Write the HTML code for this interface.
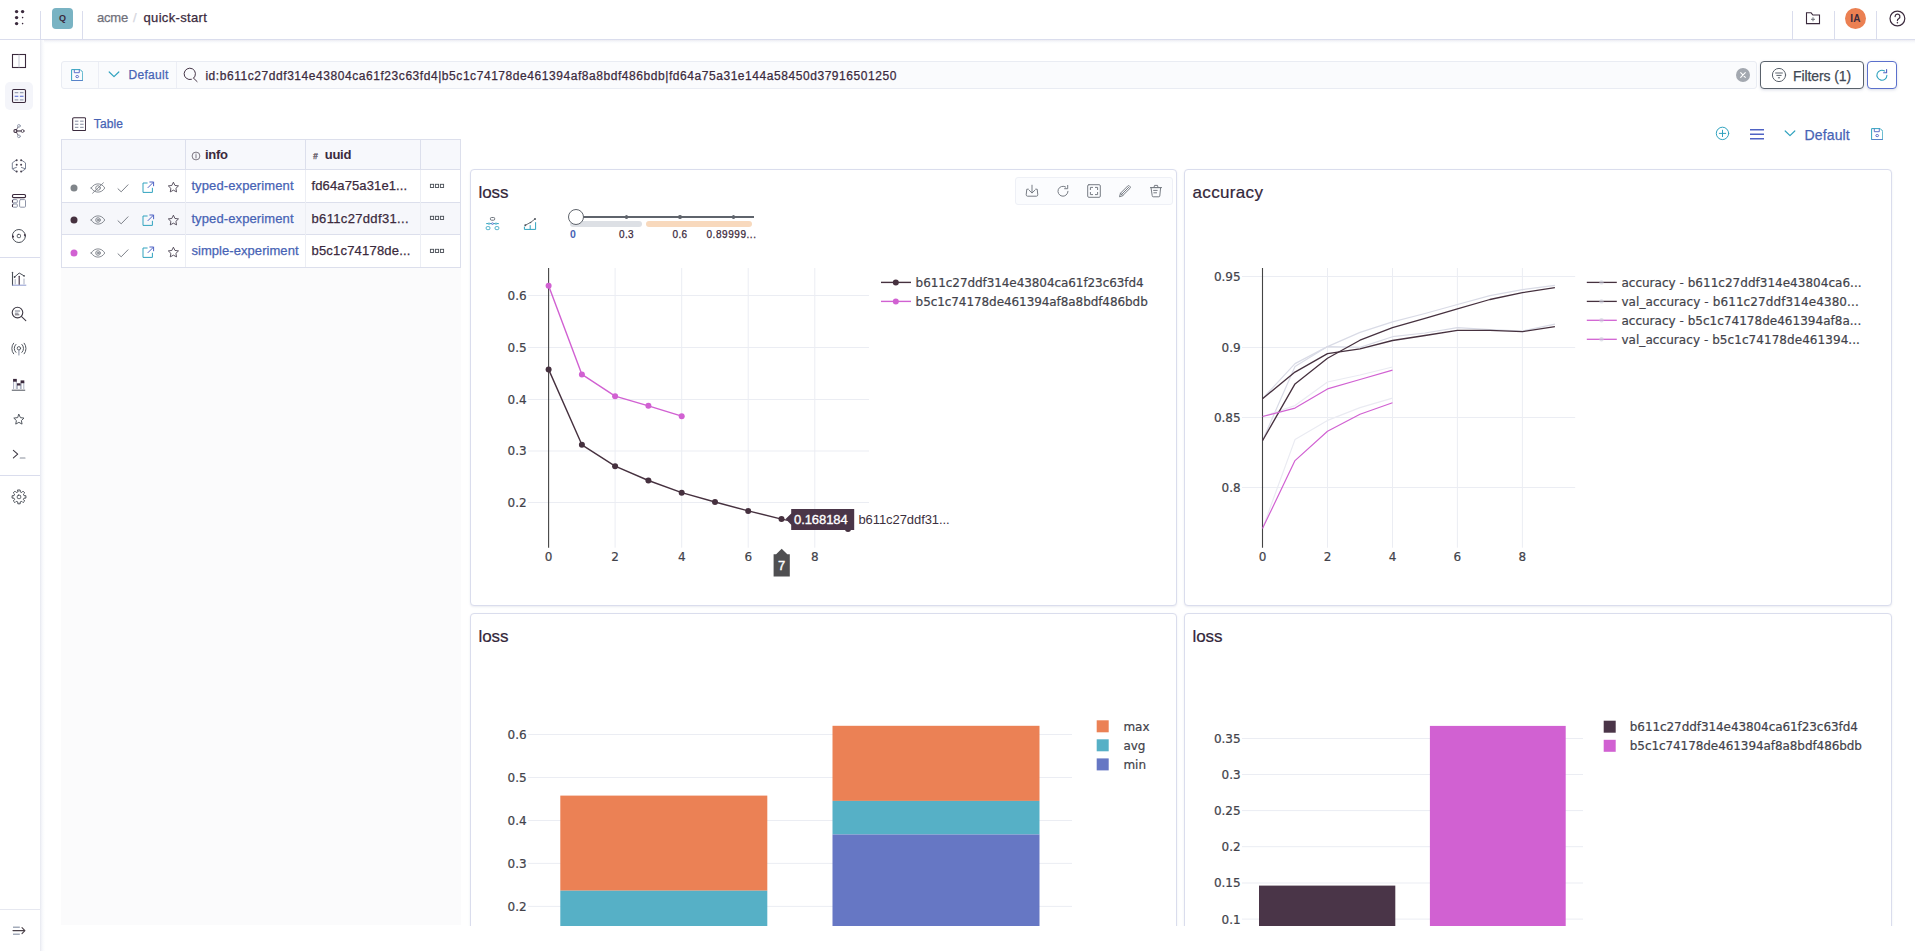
<!DOCTYPE html><html lang="en"><head><meta charset="utf-8"><title>quick-start</title><style>
*{box-sizing:border-box}
html,body{margin:0;padding:0}
body{width:1915px;height:951px;position:relative;overflow:hidden;background:#fff;font-family:"Liberation Sans",sans-serif;color:#3b2a3d;-webkit-font-smoothing:antialiased}
.abs{position:absolute}
.t{position:absolute;white-space:nowrap;line-height:1;-webkit-text-stroke-width:.25px}
#header{position:absolute;left:0;top:0;width:1915px;height:40px;background:#fff;border-bottom:1px solid #dadded;z-index:5}
#header:after{content:'';position:absolute;left:44px;top:40px;width:1871px;height:4px;background:linear-gradient(180deg,#ececf1,#f4f5f9 30%,#fafbfd 60%,#fff)}
.vsep{position:absolute;top:11px;width:1px;height:28px;background:#dadded}
#sidebar{position:absolute;left:0;top:40px;width:40px;height:911px;background:#fff;z-index:4}
#sidebar:after{content:'';position:absolute;left:40px;top:0;width:5px;height:911px;background:linear-gradient(90deg,#e6e8f0,#f1f2f7 25%,#f9fafc 55%,#fff)}
.hsep{position:absolute;left:0;width:40px;height:1px;background:#dadded}
.card{position:absolute;background:#fff;border:1px solid #dadded;border-radius:4px;box-shadow:0 1px 2px rgba(120,130,170,.15)}
.card svg{position:absolute;left:-1px;top:-1px}
.title{position:absolute;font-size:17px;line-height:1;white-space:nowrap;color:#33263a;-webkit-text-stroke:.2px #33263a}
table{border-collapse:collapse}
</style></head><body>
<div id="header">
<svg class="abs" style="left:12px;top:7px" width="16" height="22" viewBox="12 7 16 22"><g fill="#3b2a3d"><circle cx="16.6" cy="11.6" r="1.7"/><circle cx="16.6" cy="17.6" r="1.7"/><circle cx="16.6" cy="23.6" r="1.7"/><circle cx="22.6" cy="11.6" r="1.7"/><circle cx="22.6" cy="17.6" r=".8"/><circle cx="22.6" cy="23.6" r=".8"/></g></svg>
<div class="vsep" style="left:40px"></div><div class="vsep" style="left:82px"></div>
<div class="abs" style="left:52px;top:8px;width:21px;height:21px;border-radius:4px;background:#79b3c3;color:#3b2a3d;font-size:9px;font-weight:bold;line-height:21px;text-align:center">Q</div>
<div class="t" style="left:97px;top:11.3px;font-size:13px;color:#70707a;letter-spacing:-.2px">acme</div>
<div class="t" style="left:133px;top:11.3px;font-size:13px;color:#d5d6de">/</div>
<div class="t" style="left:143.5px;top:10.8px;font-size:13px;color:#3b2a3d;letter-spacing:.34px">quick-start</div>
<div class="vsep" style="left:1792px"></div><div class="vsep" style="left:1834px"></div><div class="vsep" style="left:1876px"></div>
<svg class="abs" style="left:1804px;top:10px" width="18" height="16" viewBox="1804 10 18 16" fill="none" stroke="#3b2a3d" stroke-width="1.1"><path d="M1806.5 12.8h4.6l1.8 2.2h6.6v8.6h-13z"/><path d="M1813 17.3v4M1811 19.3h4" stroke="#6c7078" stroke-width="1"/></svg>
<div class="abs" style="left:1845px;top:8px;width:21px;height:21px;border-radius:50%;background:#eb8052;color:#3b2a3d;font-size:10px;font-weight:bold;line-height:21px;text-align:center;letter-spacing:.2px">IA</div>
<svg class="abs" style="left:1888px;top:9px" width="19" height="19" viewBox="0 0 19 19" fill="none" stroke="#3b2a3d" stroke-width="1.2"><circle cx="9.4" cy="9.5" r="7.4"/><path d="M7.1 7.6a2.4 2.4 0 1 1 3.5 2.1c-.8.5-1.2.9-1.2 1.9" stroke-linecap="round"/><circle cx="9.4" cy="13.7" r=".8" fill="#3b2a3d" stroke="none"/></svg>
</div>
<div id="sidebar">
<div class="abs" style="left:5px;top:42px;width:28px;height:28px;border-radius:5px;background:#f4f5fa"></div>
<div class="hsep" style="top:217px"></div><div class="hsep" style="top:435px"></div><div class="hsep" style="top:869px;background:#e6e8f0"></div>
<svg class="abs" style="left:0;top:0" width="40" height="911" viewBox="0 40 40 911" fill="none" stroke="#3b2a3d" stroke-width="1.1" stroke-linecap="round" stroke-linejoin="round"><rect x="12.5" y="54.5" width="13" height="13" stroke-linejoin="miter"/><path d="M19 55v12" stroke="#c4c7d2" stroke-width="1"/><rect x="12.5" y="89.5" width="13" height="13" rx="1.2"/><g stroke-width="1.1" stroke-linecap="butt"><path d="M14.7 92.6h3.6M19.9 92.6h3.6M14.7 99.9h3.6M19.9 99.9h3.6" stroke="#9aa0b2"/><path d="M14.7 96.3h3.6M19.9 96.3h3.6" stroke="#4f63d0"/></g><g stroke-width=".85"><path d="M16.3 130l1.8-3M16.3 132l1.8 3.2" stroke="#5a5060"/><path d="M17.2 130.5h3.8M17.2 131.6h3.8" stroke="#5a5060" stroke-width=".7"/><circle cx="18.9" cy="125.9" r="1.4" stroke="#8b93a6"/><circle cx="18.9" cy="136.3" r="1.4" stroke="#8b93a6"/><circle cx="22.6" cy="131" r="1.45" stroke="#4a4050"/><circle cx="15.4" cy="131" r="1.5" stroke="#3b2a3d" stroke-width="1.1"/></g><g stroke="#6c7488" stroke-width=".9"><path d="M16 160.3l-3.7 2.6v6l3.7 2.6M21.8 160.3l3.7 2.6v6l-3.7 2.6"/><path d="M13 168.6l3.4-1.2M24.8 168.6l-3.4-1.2"/></g><g fill="#4a4452" stroke="none"><circle cx="16.7" cy="160.3" r="1"/><circle cx="21.1" cy="160.3" r="1"/><circle cx="16.7" cy="164.8" r="1"/><circle cx="21.1" cy="164.8" r="1"/><circle cx="16.7" cy="171.6" r="1"/><circle cx="21.1" cy="171.6" r="1"/></g><rect x="12.5" y="194.5" width="13" height="3.2" rx="1.2" stroke-width="1.2"/><g stroke="#8f95a8" stroke-width="1"><rect x="12.5" y="199.6" width="4.8" height="3.2" rx=".8"/><rect x="12.5" y="204" width="4.8" height="3.2" rx=".8"/><rect x="19.6" y="199.6" width="5.9" height="7.6" rx="1"/></g><path d="M12.5 200.5v1.5M12.5 204.8v1.6" stroke-width="1.1"/><circle cx="18.9" cy="236" r="6.5" stroke="#4a4f57" stroke-width="1"/><rect x="17.3" y="234.4" width="3.2" height="3.2" rx="1" stroke="#4a4f57" stroke-width="1"/><path d="M13.1 235.3l1 1.3-1 1.3-1-1.3zM24.8 233.7l1 1.3-1 1.3-1-1.3z" fill="#3b2a3d" stroke="none"/><path d="M12.5 272.2v13" stroke="#4a4f57"/><path d="M12.5 285.2h13.4" stroke="#8f9ad0" stroke-width="1"/><path d="M14.6 277l4.6-4 4.8 2.8" stroke="#4a4f57" stroke-width="1"/><path d="M19.2 276.2v8" stroke-width="1.1"/><path d="M15.2 279.5v4.5M24 279v5" stroke="#a9aec0" stroke-width="1"/><circle cx="14.6" cy="277" r=".9" fill="#4a4f57" stroke="none"/><circle cx="24" cy="275.8" r=".9" fill="#4a4f57" stroke="none"/><circle cx="17.5" cy="312.6" r="5.3" stroke="#3f3a45"/><path d="M21.6 316.7l4.2 3.9" stroke="#3f3a45"/><path d="M15.3 311h4.4M15.3 313.2h2.8" stroke="#6c6f80" stroke-width=".9"/><path d="M15.3 314.8h3.6" stroke="#3f3a45" stroke-width=".8"/><g stroke="#4a4f57"><circle cx="18.9" cy="348.3" r="1.7" stroke-width=".9"/><path d="M18.9 350.2v4.8" stroke="#8f95a8" stroke-width="1.1"/><path d="M15.9 344.4a5.4 5.4 0 0 0 0 8M21.9 344.4a5.4 5.4 0 0 1 0 8M13.6 343.2a8.4 8.4 0 0 0 0 10.6M24.2 343.2a8.4 8.4 0 0 1 0 10.6" stroke-width=".95"/></g><path d="M12.2 390.2h12.6" stroke="#4a4f57" stroke-width="1"/><g stroke="#a3a8ba" stroke-width=".9"><path d="M13.6 381v7.6M16.3 381v7.6M17.4 385v3.6M20.4 385v3.6M21.2 382.5v6.1M23.8 382.5v6.1"/></g><g fill="#3b2a3d" stroke="none"><rect x="13.1" y="378.9" width="3.7" height="2.8"/><rect x="17" y="383.3" width="3.6" height="2.2"/><rect x="20.6" y="380.4" width="3.7" height="2.8"/></g><path d="M18.9 414.4l1.55 3.25 3.55.45-2.6 2.45.65 3.55-3.15-1.75-3.15 1.75.65-3.55-2.6-2.45 3.55-.45z" stroke="#4a4f57" stroke-width=".95"/><path d="M13.4 450.3l4.3 3.8-4.3 3.8" stroke="#3f3a45"/><path d="M20.2 458h4.8" stroke="#8a8f9c" stroke-width="1.1"/><path d="M17.82 490 L20.18 490 L20.19 491.84 L21.74 492.48 L23.04 491.18 L24.72 492.86 L23.42 494.16 L24.06 495.71 L25.9 495.72 L25.9 498.08 L24.06 498.09 L23.42 499.64 L24.72 500.94 L23.04 502.62 L21.74 501.32 L20.19 501.96 L20.18 503.8 L17.82 503.8 L17.81 501.96 L16.26 501.32 L14.96 502.62 L13.28 500.94 L14.58 499.64 L13.94 498.09 L12.1 498.08 L12.1 495.72 L13.94 495.71 L14.58 494.16 L13.28 492.86 L14.96 491.18 L16.26 492.48 L17.81 491.84Z" stroke="#4a4f57" stroke-width="1" stroke-linejoin="round"/><rect x="17.3" y="495.2" width="3.4" height="3.4" rx="1.1" stroke="#4a4f57" stroke-width="1"/><path d="M13 927.2h6.8M13 934.2h6.8" stroke="#a3abba" stroke-width="1.4" stroke-linecap="butt"/><path d="M13 930.6h11.4" stroke="#4a4048" stroke-width="1.1"/><path d="M22 927.6l2.9 3-2.9 3" stroke="#4a4048" stroke-width="1.1"/></svg>
</div>
<div id="main" class="abs" style="left:41px;top:40px;width:1874px;height:911px">
<div class="abs" style="left:-41px;top:-40px;width:1915px;height:951px">
<div class="abs" style="left:61px;top:61px;width:1696px;height:28px;background:#fafbfd;border:1px solid #e9ecf3;border-radius:3px"></div>
<div class="abs" style="left:98px;top:62px;width:1px;height:26px;background:#eceef5"></div><div class="abs" style="left:176px;top:62px;width:1px;height:26px;background:#eceef5"></div>
<svg class="abs" style="left:70.8px;top:68.6px" width="12.4" height="12.4" viewBox="0 0 12.4 12.4" fill="none" stroke="#31a3bf" stroke-width="1"><path d="M.6 .6h8.6l2.6 2.6v8.6H.6z" stroke-linejoin="round"/><path d="M3.3 .8v2.9h5V.8" stroke="#4f63c4" stroke-width=".9"/><ellipse cx="6.2" cy="7.6" rx="1.4" ry="1.1" stroke="#4f63c4" stroke-width=".9"/><path d="M.8 11.8h10.8" stroke="#4f63c4" stroke-width=".9"/></svg>
<svg class="abs" style="left:108px;top:70px" width="12" height="9" viewBox="0 0 12 9" fill="none" stroke="#31a3bf" stroke-width="1.2" stroke-linecap="round" stroke-linejoin="round"><path d="M1.2 2l4.8 4.6L10.8 2"/></svg>
<div class="t" style="left:128.5px;top:69px;font-size:12px;color:#4763b5;letter-spacing:.31px">Default</div>
<svg class="abs" style="left:182px;top:66px" width="17" height="17" viewBox="182 66 17 17" fill="none" stroke="#3b2a3d" stroke-width=".95" stroke-linecap="round"><path d="M193.6 78.2A5.7 5.7 0 1 0 191.4 79.4"/><path d="M193.7 78.3l3.4 3.3"/></svg>
<div class="t" style="left:205.4px;top:69.5px;font-size:12px;color:#3b2a3d;letter-spacing:.557px">id:b611c27ddf314e43804ca61f23c63fd4|b5c1c74178de461394af8a8bdf486bdb|fd64a75a31e144a58450d37916501250</div>
<svg class="abs" style="left:1736px;top:68px" width="14" height="14" viewBox="0 0 14 14"><circle cx="7" cy="7" r="7" fill="#a3a8b0"/><path d="M4.7 4.7l4.6 4.6M9.3 4.7l-4.6 4.6" stroke="#fff" stroke-width="1.1" stroke-linecap="round"/></svg>
<div class="abs" style="left:1760px;top:61px;width:104px;height:28px;border:1px solid #59616b;border-radius:4px;background:#fff;box-shadow:0 1px 3px rgba(100,110,150,.25)"></div>
<svg class="abs" style="left:1771px;top:67px" width="16" height="16" viewBox="0 0 16 16" fill="none" stroke="#59616b" stroke-width="1" stroke-linecap="round"><circle cx="8" cy="8" r="6.6"/><path d="M4.6 6h6.8M5.8 8.4h4.4M7.3 10.8h1.4"/></svg>
<div class="t" style="left:1793px;top:68.5px;font-size:14px;color:#404854;letter-spacing:-.1px">Filters (1)</div>
<div class="abs" style="left:1867px;top:61px;width:30px;height:28px;border:1px solid #5b70cc;border-radius:4px;background:#fff;box-shadow:0 1px 3px rgba(100,110,150,.25)"></div>
<svg class="abs" style="left:1875px;top:68px" width="14" height="14" viewBox="0 0 14 14" fill="none" stroke="#31a3bf" stroke-width="1.1" stroke-linecap="round"><path d="M11.9 7.2A5 5 0 1 1 9.6 3"/><path d="M11.6 1.6v3.2H8.6" stroke="#4f63c4"/></svg>
<svg class="abs" style="left:71.5px;top:116.5px" width="14.5" height="14.5" viewBox="0 0 15 15" fill="none" stroke="#3b2a3d" stroke-width="1.1"><rect x=".7" y=".7" width="13.4" height="13.4" rx="1.2"/><g stroke="#7f879c" stroke-width="1"><path d="M3 4.3h3.6M8.4 4.3h3.6M3 7.5h3.6M8.4 7.5h3.6M3 10.7h3.6M8.4 10.7h3.6"/></g></svg>
<div class="t" style="left:93.8px;top:118px;font-size:12px;color:#4763b5;letter-spacing:.14px">Table</div>
<div class="abs" style="left:61px;top:139px;width:400px;height:786px;background:#fbfbfc"></div>
<div class="abs" style="left:61px;top:139px;width:400px;height:129px;background:#fff;border:1px solid #dcdfec"></div>
<div class="abs" style="left:62px;top:140px;width:398px;height:29px;background:#f7f8fc"></div>
<div class="abs" style="left:62px;top:203px;width:398px;height:31px;background:#f6f7fb"></div>
<div class="abs" style="left:61px;top:169px;width:400px;height:1px;background:#dcdfec"></div>
<div class="abs" style="left:61px;top:202px;width:400px;height:1px;background:#dcdfec"></div>
<div class="abs" style="left:61px;top:234px;width:400px;height:1px;background:#dcdfec"></div>
<div class="abs" style="left:185px;top:140px;width:1px;height:29px;background:#dcdfec"></div>
<div class="abs" style="left:185px;top:170px;width:1px;height:97px;background:#eceef4"></div>
<div class="abs" style="left:305px;top:140px;width:1px;height:29px;background:#dcdfec"></div>
<div class="abs" style="left:305px;top:170px;width:1px;height:97px;background:#eceef4"></div>
<div class="abs" style="left:420px;top:140px;width:1px;height:29px;background:#dcdfec"></div>
<div class="abs" style="left:420px;top:170px;width:1px;height:97px;background:#eceef4"></div>
<svg class="abs" style="left:191px;top:151px" width="10" height="10" viewBox="0 0 10 10" fill="none" stroke="#5d5562" stroke-width=".8"><circle cx="5" cy="5" r="3.9"/><path d="M5 4.4v2.6M5 3v.4" stroke-linecap="round"/></svg>
<div class="t" style="left:205px;top:147.8px;font-size:13px;font-weight:bold;color:#3b2a3d;letter-spacing:-.3px;-webkit-text-stroke-width:0">info</div>
<div class="t" style="left:313px;top:151.5px;font-size:8.5px;font-style:italic;font-weight:bold;color:#5d5562">#</div>
<div class="t" style="left:324.8px;top:147.8px;font-size:13px;font-weight:bold;color:#3b2a3d;letter-spacing:-.3px;-webkit-text-stroke-width:0">uuid</div>
<svg class="abs" style="left:69px;top:182.5px" width="10" height="10" viewBox="0 0 10 10"><circle cx="5" cy="5" r="3.5" fill="#80858a"/></svg>
<svg class="abs" style="left:90px;top:179.5px" width="16" height="16" viewBox="0 0 16 16" fill="none" stroke="#7c8088" stroke-width=".9" stroke-linecap="round"><path d="M1.2 8C3 5.2 5.3 3.9 8 3.9s5 1.3 6.8 4.1C13 10.8 10.7 12.1 8 12.1S3 10.8 1.2 8z"/><circle cx="8" cy="8" r="2.3"/><path d="M2.6 13.2L13.4 2.8"/></svg>
<svg class="abs" style="left:116px;top:180.5px" width="14" height="14" viewBox="0 0 14 14" fill="none" stroke="#7c8088" stroke-width="1" stroke-linecap="round" stroke-linejoin="round"><path d="M2 7.8l3.2 3L12 3.8"/></svg>
<svg class="abs" style="left:141px;top:180px" width="14" height="14" viewBox="0 0 14 14" fill="none" stroke="#31a3bf" stroke-width="1" stroke-linecap="round" stroke-linejoin="round"><path d="M6.2 3H2v9.4h9.4V8.2"/><path d="M8.8 2h3.8v3.8M12.4 2.2L7 7.6" stroke="#4f63c4"/></svg>
<svg class="abs" style="left:166.5px;top:181.2px" width="13" height="13" viewBox="0 0 13 13" fill="none" stroke="#4c4452" stroke-width=".9" stroke-linejoin="round"><path d="M6.4 1.2l1.55 3.25 3.55.45-2.6 2.45.65 3.55-3.15-1.75-3.15 1.75.65-3.55-2.6-2.45 3.55-.45z"/></svg>
<div class="t" style="left:191.4px;top:179px;font-size:13px;color:#4763b5;letter-spacing:0.116px">typed-experiment</div>
<div class="t" style="left:311.5px;top:179px;font-size:13px;color:#3b2a3d;letter-spacing:0.12px">fd64a75a31e1...</div>
<svg class="abs" style="left:429px;top:183px" width="17" height="6" viewBox="0 0 17 6" fill="none" stroke="#4a4f57" stroke-width=".9"><rect x="1.4" y="1.3" width="3.2" height="3.2"/><rect x="6.4" y="1.3" width="3.2" height="3.2"/><rect x="11.4" y="1.3" width="3.2" height="3.2"/></svg>
<svg class="abs" style="left:69px;top:215.1px" width="10" height="10" viewBox="0 0 10 10"><circle cx="5" cy="5" r="3.5" fill="#46313f"/></svg>
<svg class="abs" style="left:90px;top:212.1px" width="16" height="16" viewBox="0 0 16 16" fill="none" stroke="#7c8088" stroke-width=".9" stroke-linecap="round"><path d="M1.2 8C3 5.2 5.3 3.9 8 3.9s5 1.3 6.8 4.1C13 10.8 10.7 12.1 8 12.1S3 10.8 1.2 8z"/><circle cx="8" cy="8" r="2.3"/><circle cx="8" cy="8" r=".9"/></svg>
<svg class="abs" style="left:116px;top:213.1px" width="14" height="14" viewBox="0 0 14 14" fill="none" stroke="#7c8088" stroke-width="1" stroke-linecap="round" stroke-linejoin="round"><path d="M2 7.8l3.2 3L12 3.8"/></svg>
<svg class="abs" style="left:141px;top:212.6px" width="14" height="14" viewBox="0 0 14 14" fill="none" stroke="#31a3bf" stroke-width="1" stroke-linecap="round" stroke-linejoin="round"><path d="M6.2 3H2v9.4h9.4V8.2"/><path d="M8.8 2h3.8v3.8M12.4 2.2L7 7.6" stroke="#4f63c4"/></svg>
<svg class="abs" style="left:166.5px;top:213.79999999999998px" width="13" height="13" viewBox="0 0 13 13" fill="none" stroke="#4c4452" stroke-width=".9" stroke-linejoin="round"><path d="M6.4 1.2l1.55 3.25 3.55.45-2.6 2.45.65 3.55-3.15-1.75-3.15 1.75.65-3.55-2.6-2.45 3.55-.45z"/></svg>
<div class="t" style="left:191.4px;top:211.8px;font-size:13px;color:#4763b5;letter-spacing:0.116px">typed-experiment</div>
<div class="t" style="left:311.5px;top:211.8px;font-size:13px;color:#3b2a3d;letter-spacing:0.34px">b611c27ddf31...</div>
<svg class="abs" style="left:429px;top:215.2px" width="17" height="6" viewBox="0 0 17 6" fill="none" stroke="#4a4f57" stroke-width=".9"><rect x="1.4" y="1.3" width="3.2" height="3.2"/><rect x="6.4" y="1.3" width="3.2" height="3.2"/><rect x="11.4" y="1.3" width="3.2" height="3.2"/></svg>
<svg class="abs" style="left:69px;top:247.7px" width="10" height="10" viewBox="0 0 10 10"><circle cx="5" cy="5" r="3.5" fill="#d161d2"/></svg>
<svg class="abs" style="left:90px;top:244.7px" width="16" height="16" viewBox="0 0 16 16" fill="none" stroke="#7c8088" stroke-width=".9" stroke-linecap="round"><path d="M1.2 8C3 5.2 5.3 3.9 8 3.9s5 1.3 6.8 4.1C13 10.8 10.7 12.1 8 12.1S3 10.8 1.2 8z"/><circle cx="8" cy="8" r="2.3"/><circle cx="8" cy="8" r=".9"/></svg>
<svg class="abs" style="left:116px;top:245.7px" width="14" height="14" viewBox="0 0 14 14" fill="none" stroke="#7c8088" stroke-width="1" stroke-linecap="round" stroke-linejoin="round"><path d="M2 7.8l3.2 3L12 3.8"/></svg>
<svg class="abs" style="left:141px;top:245.2px" width="14" height="14" viewBox="0 0 14 14" fill="none" stroke="#31a3bf" stroke-width="1" stroke-linecap="round" stroke-linejoin="round"><path d="M6.2 3H2v9.4h9.4V8.2"/><path d="M8.8 2h3.8v3.8M12.4 2.2L7 7.6" stroke="#4f63c4"/></svg>
<svg class="abs" style="left:166.5px;top:246.39999999999998px" width="13" height="13" viewBox="0 0 13 13" fill="none" stroke="#4c4452" stroke-width=".9" stroke-linejoin="round"><path d="M6.4 1.2l1.55 3.25 3.55.45-2.6 2.45.65 3.55-3.15-1.75-3.15 1.75.65-3.55-2.6-2.45 3.55-.45z"/></svg>
<div class="t" style="left:191.4px;top:244px;font-size:13px;color:#4763b5;letter-spacing:0.06px">simple-experiment</div>
<div class="t" style="left:311.5px;top:244px;font-size:13px;color:#3b2a3d;letter-spacing:0.2px">b5c1c74178de...</div>
<svg class="abs" style="left:429px;top:248px" width="17" height="6" viewBox="0 0 17 6" fill="none" stroke="#4a4f57" stroke-width=".9"><rect x="1.4" y="1.3" width="3.2" height="3.2"/><rect x="6.4" y="1.3" width="3.2" height="3.2"/><rect x="11.4" y="1.3" width="3.2" height="3.2"/></svg>
<svg class="abs" style="left:1715px;top:126px" width="15" height="15" viewBox="0 0 15 15" fill="none" stroke="#31a3bf" stroke-width="1" stroke-linecap="round"><circle cx="7.5" cy="7.4" r="6.2"/><path d="M7.5 4.2v6.4M4.3 7.4h6.4"/></svg>
<svg class="abs" style="left:1749px;top:127px" width="16" height="14" viewBox="0 0 16 14" stroke="#4f63c4" stroke-width="1.6"><path d="M1 2.7h14M1 7.2h14M1 11.7h14"/></svg>
<svg class="abs" style="left:1784px;top:129px" width="12" height="9" viewBox="0 0 12 9" fill="none" stroke="#31a3bf" stroke-width="1.2" stroke-linecap="round" stroke-linejoin="round"><path d="M1.2 2l4.8 4.6L10.8 2"/></svg>
<div class="t" style="left:1804.6px;top:128px;font-size:14px;color:#4763b5;letter-spacing:.13px">Default</div>
<svg class="abs" style="left:1870.8px;top:127.8px" width="12.4" height="12.4" viewBox="0 0 12.4 12.4" fill="none" stroke="#31a3bf" stroke-width="1"><path d="M.6 .6h8.6l2.6 2.6v8.6H.6z" stroke-linejoin="round"/><path d="M3.3 .8v2.9h5V.8" stroke="#4f63c4" stroke-width=".9"/><ellipse cx="6.2" cy="7.6" rx="1.4" ry="1.1" stroke="#4f63c4" stroke-width=".9"/><path d="M.8 11.8h10.8" stroke="#4f63c4" stroke-width=".9"/></svg>
<div class="abs" style="left:462px;top:150px;width:1453px;height:776px;overflow:hidden">
<div class="abs" style="left:-462px;top:-150px;width:1915px;height:951px">
<div class="card" style="left:470px;top:169px;width:707px;height:437px"><div class="title" style="left:7.5px;top:13.7px;letter-spacing:-0.1px">loss</div><svg width="707" height="437" viewBox="470 169 707 437"><path d="M528 295.5H869" stroke="#ebedf3" stroke-width="1"/><text x="526.6" y="299.9" font-size="12" fill="#42424a" text-anchor="end" font-family="'DejaVu Sans',sans-serif" font-weight="normal" letter-spacing="0"  stroke="#42424a" stroke-width=".2">0.6</text><path d="M528 347.5H869" stroke="#ebedf3" stroke-width="1"/><text x="526.6" y="351.9" font-size="12" fill="#42424a" text-anchor="end" font-family="'DejaVu Sans',sans-serif" font-weight="normal" letter-spacing="0"  stroke="#42424a" stroke-width=".2">0.5</text><path d="M528 399.5H869" stroke="#ebedf3" stroke-width="1"/><text x="526.6" y="403.9" font-size="12" fill="#42424a" text-anchor="end" font-family="'DejaVu Sans',sans-serif" font-weight="normal" letter-spacing="0"  stroke="#42424a" stroke-width=".2">0.4</text><path d="M528 451H869" stroke="#ebedf3" stroke-width="1"/><text x="526.6" y="455.4" font-size="12" fill="#42424a" text-anchor="end" font-family="'DejaVu Sans',sans-serif" font-weight="normal" letter-spacing="0"  stroke="#42424a" stroke-width=".2">0.3</text><path d="M528 502.5H869" stroke="#ebedf3" stroke-width="1"/><text x="526.6" y="506.9" font-size="12" fill="#42424a" text-anchor="end" font-family="'DejaVu Sans',sans-serif" font-weight="normal" letter-spacing="0"  stroke="#42424a" stroke-width=".2">0.2</text><path d="M615.1 268V547.7" stroke="#ebedf3" stroke-width="1"/><path d="M681.7 268V547.7" stroke="#ebedf3" stroke-width="1"/><path d="M748.2 268V547.7" stroke="#ebedf3" stroke-width="1"/><path d="M814.8 268V547.7" stroke="#ebedf3" stroke-width="1"/><path d="M548.6 268V547.7" stroke="#444" stroke-width="1.1"/><text x="548.6" y="561.2" font-size="12" fill="#42424a" text-anchor="middle" font-family="'DejaVu Sans',sans-serif" font-weight="normal" letter-spacing="0"  stroke="#42424a" stroke-width=".2">0</text><text x="615.1" y="561.2" font-size="12" fill="#42424a" text-anchor="middle" font-family="'DejaVu Sans',sans-serif" font-weight="normal" letter-spacing="0"  stroke="#42424a" stroke-width=".2">2</text><text x="681.7" y="561.2" font-size="12" fill="#42424a" text-anchor="middle" font-family="'DejaVu Sans',sans-serif" font-weight="normal" letter-spacing="0"  stroke="#42424a" stroke-width=".2">4</text><text x="748.2" y="561.2" font-size="12" fill="#42424a" text-anchor="middle" font-family="'DejaVu Sans',sans-serif" font-weight="normal" letter-spacing="0"  stroke="#42424a" stroke-width=".2">6</text><text x="814.8" y="561.2" font-size="12" fill="#42424a" text-anchor="middle" font-family="'DejaVu Sans',sans-serif" font-weight="normal" letter-spacing="0"  stroke="#42424a" stroke-width=".2">8</text><polyline points="548.6,369.4 581.9,444.8 615.1,466.2 648.4,480.5 681.7,492.7 715,502 748.2,510.9 781.5,519.1 814.8,525.6 848,528.9" fill="none" stroke="#46313f" stroke-width="1.4" stroke-linejoin="round"/><circle cx="548.6" cy="369.4" r="3" fill="#46313f"/><circle cx="581.9" cy="444.8" r="3" fill="#46313f"/><circle cx="615.1" cy="466.2" r="3" fill="#46313f"/><circle cx="648.4" cy="480.5" r="3" fill="#46313f"/><circle cx="681.7" cy="492.7" r="3" fill="#46313f"/><circle cx="715" cy="502" r="3" fill="#46313f"/><circle cx="748.2" cy="510.9" r="3" fill="#46313f"/><circle cx="781.5" cy="519.1" r="3" fill="#46313f"/><circle cx="814.8" cy="525.6" r="3" fill="#46313f"/><circle cx="848" cy="528.9" r="3" fill="#46313f"/><polyline points="548.6,285.7 581.9,374.4 615.1,396.2 648.4,405.8 681.7,416.2" fill="none" stroke="#d161d2" stroke-width="1.4" stroke-linejoin="round"/><circle cx="548.6" cy="285.7" r="3" fill="#d161d2"/><circle cx="581.9" cy="374.4" r="3" fill="#d161d2"/><circle cx="615.1" cy="396.2" r="3" fill="#d161d2"/><circle cx="648.4" cy="405.8" r="3" fill="#d161d2"/><circle cx="681.7" cy="416.2" r="3" fill="#d161d2"/><path d="M881 282.4H911" stroke="#46313f" stroke-width="1.4"/><circle cx="895.8" cy="282.4" r="3" fill="#46313f"/><text x="915.6" y="286.9" font-size="12" fill="#42424a" text-anchor="start" font-family="'DejaVu Sans',sans-serif" font-weight="normal" letter-spacing="-0.075"  stroke="#42424a" stroke-width=".2">b611c27ddf314e43804ca61f23c63fd4</text><path d="M881 301.4H911" stroke="#d161d2" stroke-width="1.4"/><circle cx="895.8" cy="301.4" r="3" fill="#d161d2"/><text x="915.6" y="305.9" font-size="12" fill="#42424a" text-anchor="start" font-family="'DejaVu Sans',sans-serif" font-weight="normal" letter-spacing="-0.075"  stroke="#42424a" stroke-width=".2">b5c1c74178de461394af8a8bdf486bdb</text><path d="M785.6 519.1l5.6-5.6v-4.6h63v21h-63v-5.2z" fill="#4a3548"/><text x="794" y="523.8" font-size="13" fill="#fff" text-anchor="start" font-family="'Liberation Sans',sans-serif" font-weight="normal" letter-spacing="-0.08" stroke="#fff" stroke-width=".35">0.168184</text><text x="858.4" y="523.8" font-size="13" fill="#3c2f3d" text-anchor="start" font-family="'Liberation Sans',sans-serif" font-weight="normal" letter-spacing="-0.07" >b611c27ddf31...</text><path d="M781.7 548.7l-5.6 5.6h-2.5v22.2h16.2v-22.2h-2.5z" fill="#4f4f51"/><text x="781.7" y="570.3" font-size="13" fill="#fff" text-anchor="middle" font-family="'Liberation Sans',sans-serif" font-weight="normal" letter-spacing="0" stroke="#fff" stroke-width=".35">7</text></svg><div class="abs" style="left:544px;top:7px;width:158px;height:28px;border:1px solid #eef0f6;border-radius:3px;background:#fbfcfe"></div><svg class="abs" style="left:554.4000000000001px;top:14px" width="14" height="14" viewBox="0 0 14 14" fill="none" stroke="#777c84" stroke-width="1" stroke-linecap="round" stroke-linejoin="round"><path d="M7 1.2v7.6M4.2 6.3L7 9l2.8-2.7"/><path d="M3.4 5.2H1.8l-.6 5.6c0 .8.5 1.4 1.3 1.4h9c.8 0 1.3-.6 1.3-1.4l-.6-5.6h-1.6"/></svg><svg class="abs" style="left:585px;top:14px" width="14" height="14" viewBox="0 0 14 14" fill="none" stroke="#777c84" stroke-width="1" stroke-linecap="round" stroke-linejoin="round"><path d="M12 7.3A5 5 0 1 1 9.7 3"/><path d="M11.7 1.4v3.3H8.6"/></svg><svg class="abs" style="left:616px;top:14px" width="14" height="14" viewBox="0 0 14 14" fill="none" stroke="#777c84" stroke-width="1" stroke-linecap="round" stroke-linejoin="round"><rect x=".700" y=".700" width="12.6" height="12.6" rx="1.2"/><path d="M3.4 5.6V3.4h2.2M8.4 3.4h2.2v2.2M10.6 8.4v2.2H8.4M5.6 10.6H3.4V8.4"/></svg><svg class="abs" style="left:647px;top:14px" width="14" height="14" viewBox="0 0 14 14" fill="none" stroke="#777c84" stroke-width="1" stroke-linecap="round" stroke-linejoin="round"><path d="M1.6 12.4l.9-3.2 7.2-7.2a1.3 1.3 0 0 1 1.8 0l.5.5a1.3 1.3 0 0 1 0 1.8L4.8 11.5z"/><path d="M3.4 10.6l7.2-7.2M2.5 9.2l2.3 2.3"/></svg><svg class="abs" style="left:678px;top:14px" width="14" height="14" viewBox="0 0 14 14" fill="none" stroke="#777c84" stroke-width="1" stroke-linecap="round" stroke-linejoin="round"><path d="M2.4 3.6h9.2l-.8 8.4c0 .5-.4.8-.9.8H4.1c-.5 0-.9-.3-.9-.8z"/><path d="M1.4 3.6h11.2M5 3.4l.5-2h3l.5 2M4.6 6.4h3.6M4.8 8.8h2.8"/></svg><svg class="abs" style="left:14px;top:46px" width="15" height="15" viewBox="0 0 15 15" fill="none" stroke="#31a3bf" stroke-width=".9"><rect x="5.4" y="1.5" width="4.3" height="2.7" rx="1.1" stroke="#5f6670"/><rect x="1.2" y="10.6" width="3.7" height="3" rx="1.1"/><rect x="10.1" y="10.6" width="3.7" height="3" rx="1.1"/><path d="M1.2 7.6h12.6" stroke="#31a3bf" stroke-width="1"/><circle cx="7.5" cy="7.6" r=".9" fill="#fff" stroke="#4f63c4" stroke-width=".7"/><circle cx="4" cy="7.6" r=".8" fill="#fff" stroke-width=".7"/><circle cx="11" cy="7.6" r=".8" fill="#fff" stroke-width=".7"/></svg><svg class="abs" style="left:52px;top:47px" width="15" height="14" viewBox="523 217 15 14" fill="none" stroke="#31a3bf" stroke-width="1" stroke-linejoin="round"><path d="M524.4 226.6v2.8h11.2v-7.2"/><path d="M530.2 229.4v-4.2"/><path d="M525.3 225.2l5.2-2.7 4.5-3.5" stroke="#5a6068" stroke-width=".9"/><circle cx="535" cy="219" r="1" fill="#4f555d" stroke="none"/><circle cx="525.3" cy="225.2" r="1" fill="#4f555d" stroke="none"/><circle cx="530.5" cy="222.5" r=".8" fill="#4f555d" stroke="none"/></svg><div class="abs" style="left:105px;top:46.30000000000001px;width:178px;height:1.3px;background:#5f646c"></div><div class="abs" style="left:153.69999999999993px;top:45.20000000000002px;width:3.4px;height:3.4px;border-radius:50%;background:#5f646c"></div><div class="abs" style="left:207.29999999999995px;top:45.20000000000002px;width:3.4px;height:3.4px;border-radius:50%;background:#5f646c"></div><div class="abs" style="left:260.5px;top:45.20000000000002px;width:3.4px;height:3.4px;border-radius:50%;background:#5f646c"></div><div class="abs" style="left:99px;top:51px;width:71.5px;height:6px;border-radius:3px;background:#dde0e5"></div><div class="abs" style="left:175.29999999999995px;top:51px;width:105.7px;height:6px;border-radius:3px;background:#f8d9bd"></div><div class="abs" style="left:97px;top:39px;width:16px;height:16px;border-radius:50%;background:#fff;border:1px solid #5f646c"></div><div class="t" style="left:99px;top:59.19999999999999px;font-size:10.5px;font-weight:bold;-webkit-text-stroke-width:0;color:#4763b5">0</div><div class="t" style="left:143.5px;top:59.5px;width:24px;text-align:center;font-size:10px;color:#3b2a3d;letter-spacing:.4px">0.3</div><div class="t" style="left:197px;top:59.5px;width:24px;text-align:center;font-size:10px;color:#3b2a3d;letter-spacing:.4px">0.6</div><div class="t" style="left:235.5px;top:59.5px;font-size:10px;color:#3b2a3d;letter-spacing:.55px">0.89999...</div></div>
<div class="card" style="left:1184px;top:169px;width:708px;height:437px"><div class="title" style="left:7.5px;top:13.7px;letter-spacing:0.35px">accuracy</div><svg width="708" height="437" viewBox="1184 169 708 437"><path d="M1242 276.5H1575.2" stroke="#ebedf3" stroke-width="1"/><text x="1240.6" y="280.9" font-size="12" fill="#42424a" text-anchor="end" font-family="'DejaVu Sans',sans-serif" font-weight="normal" letter-spacing="0"  stroke="#42424a" stroke-width=".2">0.95</text><path d="M1242 347.5H1575.2" stroke="#ebedf3" stroke-width="1"/><text x="1240.6" y="351.9" font-size="12" fill="#42424a" text-anchor="end" font-family="'DejaVu Sans',sans-serif" font-weight="normal" letter-spacing="0"  stroke="#42424a" stroke-width=".2">0.9</text><path d="M1242 417.5H1575.2" stroke="#ebedf3" stroke-width="1"/><text x="1240.6" y="421.9" font-size="12" fill="#42424a" text-anchor="end" font-family="'DejaVu Sans',sans-serif" font-weight="normal" letter-spacing="0"  stroke="#42424a" stroke-width=".2">0.85</text><path d="M1242 487.5H1575.2" stroke="#ebedf3" stroke-width="1"/><text x="1240.6" y="491.9" font-size="12" fill="#42424a" text-anchor="end" font-family="'DejaVu Sans',sans-serif" font-weight="normal" letter-spacing="0"  stroke="#42424a" stroke-width=".2">0.8</text><path d="M1327.5 268V547.7" stroke="#ebedf3" stroke-width="1"/><path d="M1392.5 268V547.7" stroke="#ebedf3" stroke-width="1"/><path d="M1457.4 268V547.7" stroke="#ebedf3" stroke-width="1"/><path d="M1522.4 268V547.7" stroke="#ebedf3" stroke-width="1"/><text x="1262.5" y="561.2" font-size="12" fill="#42424a" text-anchor="middle" font-family="'DejaVu Sans',sans-serif" font-weight="normal" letter-spacing="0"  stroke="#42424a" stroke-width=".2">0</text><text x="1327.5" y="561.2" font-size="12" fill="#42424a" text-anchor="middle" font-family="'DejaVu Sans',sans-serif" font-weight="normal" letter-spacing="0"  stroke="#42424a" stroke-width=".2">2</text><text x="1392.5" y="561.2" font-size="12" fill="#42424a" text-anchor="middle" font-family="'DejaVu Sans',sans-serif" font-weight="normal" letter-spacing="0"  stroke="#42424a" stroke-width=".2">4</text><text x="1457.4" y="561.2" font-size="12" fill="#42424a" text-anchor="middle" font-family="'DejaVu Sans',sans-serif" font-weight="normal" letter-spacing="0"  stroke="#42424a" stroke-width=".2">6</text><text x="1522.4" y="561.2" font-size="12" fill="#42424a" text-anchor="middle" font-family="'DejaVu Sans',sans-serif" font-weight="normal" letter-spacing="0"  stroke="#42424a" stroke-width=".2">8</text><polyline points="1262.5,440.7 1295,366.5 1327.5,346.6 1360,332.4 1392.5,321.9 1425,313.5 1457.4,304.5 1489.9,295.6 1522.4,289.6 1554.9,285.3" fill="none" stroke="#d9dbe6" stroke-width="1.2" stroke-linejoin="round"/><polyline points="1262.5,398.7 1295,363.6 1327.5,346.6 1360,347.4 1392.5,336.7 1425,333 1457.4,327.6 1489.9,329.6 1522.4,331 1554.9,324.2" fill="none" stroke="#d9dbe6" stroke-width="1.2" stroke-linejoin="round"/><polyline points="1262.5,416.5 1295,405.6 1327.5,382 1360,375 1392.5,367" fill="none" stroke="#eaebf2" stroke-width="1.2" stroke-linejoin="round"/><polyline points="1262.5,528.6 1295,439.6 1327.5,420.4 1360,407.6 1392.5,398.2" fill="none" stroke="#eaebf2" stroke-width="1.2" stroke-linejoin="round"/><path d="M1262.5 268V547.7" stroke="#444" stroke-width="1.1"/><polyline points="1262.5,440.7 1295,383.9 1327.5,358.3 1360,340.2 1392.5,327.7 1425,318.3 1457.4,308.9 1489.9,299.5 1522.4,292.7 1554.9,287.7" fill="none" stroke="#46313f" stroke-width="1.3" stroke-linejoin="round"/><polyline points="1262.5,398.7 1295,372.1 1327.5,353.6 1360,348.9 1392.5,340.5 1425,335.5 1457.4,330.4 1489.9,330.4 1522.4,331.7 1554.9,326.7" fill="none" stroke="#46313f" stroke-width="1.3" stroke-linejoin="round"/><polyline points="1262.5,416.5 1295,408.1 1327.5,388.9 1360,379.5 1392.5,370.1" fill="none" stroke="#d161d2" stroke-width="1.2" stroke-linejoin="round"/><polyline points="1262.5,528.6 1295,460.6 1327.5,431.3 1360,414.2 1392.5,402.7" fill="none" stroke="#d161d2" stroke-width="1.2" stroke-linejoin="round"/><path d="M1586.8 282.4H1616.8" stroke="#46313f" stroke-width="1.3"/><circle cx="1601.5" cy="282.4" r="2.2" fill="#c9cbd8" opacity=".6"/><text x="1621.4" y="286.9" font-size="12" fill="#42424a" text-anchor="start" font-family="'DejaVu Sans',sans-serif" font-weight="normal" letter-spacing="0.02"  stroke="#42424a" stroke-width=".2">accuracy - b611c27ddf314e43804ca6...</text><path d="M1586.8 301.4H1616.8" stroke="#46313f" stroke-width="1.3"/><circle cx="1601.5" cy="301.4" r="2.2" fill="#c9cbd8" opacity=".6"/><text x="1621.4" y="305.9" font-size="12" fill="#42424a" text-anchor="start" font-family="'DejaVu Sans',sans-serif" font-weight="normal" letter-spacing="0.095"  stroke="#42424a" stroke-width=".2">val_accuracy - b611c27ddf314e4380...</text><path d="M1586.8 320.3H1616.8" stroke="#d161d2" stroke-width="1.3"/><circle cx="1601.5" cy="320.3" r="2.2" fill="#c9cbd8" opacity=".6"/><text x="1621.4" y="324.8" font-size="12" fill="#42424a" text-anchor="start" font-family="'DejaVu Sans',sans-serif" font-weight="normal" letter-spacing="0.02"  stroke="#42424a" stroke-width=".2">accuracy - b5c1c74178de461394af8a...</text><path d="M1586.8 339.3H1616.8" stroke="#d161d2" stroke-width="1.3"/><circle cx="1601.5" cy="339.3" r="2.2" fill="#c9cbd8" opacity=".6"/><text x="1621.4" y="343.8" font-size="12" fill="#42424a" text-anchor="start" font-family="'DejaVu Sans',sans-serif" font-weight="normal" letter-spacing="0.06"  stroke="#42424a" stroke-width=".2">val_accuracy - b5c1c74178de461394...</text></svg></div>
<div class="card" style="left:470px;top:613px;width:707px;height:437px"><div class="title" style="left:7.5px;top:13.7px;letter-spacing:-0.1px">loss</div><svg width="707" height="437" viewBox="470 613 707 437"><path d="M528 734.5H1072" stroke="#ebedf3" stroke-width="1"/><text x="526.6" y="738.9" font-size="12" fill="#42424a" text-anchor="end" font-family="'DejaVu Sans',sans-serif" font-weight="normal" letter-spacing="0"  stroke="#42424a" stroke-width=".2">0.6</text><path d="M528 777.5H1072" stroke="#ebedf3" stroke-width="1"/><text x="526.6" y="781.9" font-size="12" fill="#42424a" text-anchor="end" font-family="'DejaVu Sans',sans-serif" font-weight="normal" letter-spacing="0"  stroke="#42424a" stroke-width=".2">0.5</text><path d="M528 820.5H1072" stroke="#ebedf3" stroke-width="1"/><text x="526.6" y="824.9" font-size="12" fill="#42424a" text-anchor="end" font-family="'DejaVu Sans',sans-serif" font-weight="normal" letter-spacing="0"  stroke="#42424a" stroke-width=".2">0.4</text><path d="M528 863.4H1072" stroke="#ebedf3" stroke-width="1"/><text x="526.6" y="867.8" font-size="12" fill="#42424a" text-anchor="end" font-family="'DejaVu Sans',sans-serif" font-weight="normal" letter-spacing="0"  stroke="#42424a" stroke-width=".2">0.3</text><path d="M528 906.4H1072" stroke="#ebedf3" stroke-width="1"/><text x="526.6" y="910.8" font-size="12" fill="#42424a" text-anchor="end" font-family="'DejaVu Sans',sans-serif" font-weight="normal" letter-spacing="0"  stroke="#42424a" stroke-width=".2">0.2</text><rect x="560.3" y="795.6" width="207" height="95.1" fill="#eb8155"/><rect x="560.3" y="890.7" width="207" height="100" fill="#56b0c6"/><rect x="832.5" y="725.8" width="207" height="75.1" fill="#eb8155"/><rect x="832.5" y="800.9" width="207" height="33.6" fill="#56b0c6"/><rect x="832.5" y="834.5" width="207" height="150" fill="#6677c4"/><rect x="1096.7" y="720.3" width="12" height="12" fill="#eb8155"/><text x="1123.4" y="730.5999999999999" font-size="12" fill="#42424a" text-anchor="start" font-family="'DejaVu Sans',sans-serif" font-weight="normal" letter-spacing="0"  stroke="#42424a" stroke-width=".2">max</text><rect x="1096.7" y="739.3" width="12" height="12" fill="#56b0c6"/><text x="1123.4" y="749.5999999999999" font-size="12" fill="#42424a" text-anchor="start" font-family="'DejaVu Sans',sans-serif" font-weight="normal" letter-spacing="0"  stroke="#42424a" stroke-width=".2">avg</text><rect x="1096.7" y="758.4" width="12" height="12" fill="#6677c4"/><text x="1123.4" y="768.6999999999999" font-size="12" fill="#42424a" text-anchor="start" font-family="'DejaVu Sans',sans-serif" font-weight="normal" letter-spacing="0"  stroke="#42424a" stroke-width=".2">min</text></svg></div>
<div class="card" style="left:1184px;top:613px;width:708px;height:437px"><div class="title" style="left:7.5px;top:13.7px;letter-spacing:-0.1px">loss</div><svg width="708" height="437" viewBox="1184 613 708 437"><path d="M1242 738.5H1583" stroke="#ebedf3" stroke-width="1"/><text x="1240.6" y="742.9" font-size="12" fill="#42424a" text-anchor="end" font-family="'DejaVu Sans',sans-serif" font-weight="normal" letter-spacing="0"  stroke="#42424a" stroke-width=".2">0.35</text><path d="M1242 774.5H1583" stroke="#ebedf3" stroke-width="1"/><text x="1240.6" y="778.9" font-size="12" fill="#42424a" text-anchor="end" font-family="'DejaVu Sans',sans-serif" font-weight="normal" letter-spacing="0"  stroke="#42424a" stroke-width=".2">0.3</text><path d="M1242 810.6H1583" stroke="#ebedf3" stroke-width="1"/><text x="1240.6" y="815" font-size="12" fill="#42424a" text-anchor="end" font-family="'DejaVu Sans',sans-serif" font-weight="normal" letter-spacing="0"  stroke="#42424a" stroke-width=".2">0.25</text><path d="M1242 846.7H1583" stroke="#ebedf3" stroke-width="1"/><text x="1240.6" y="851.1" font-size="12" fill="#42424a" text-anchor="end" font-family="'DejaVu Sans',sans-serif" font-weight="normal" letter-spacing="0"  stroke="#42424a" stroke-width=".2">0.2</text><path d="M1242 883H1583" stroke="#ebedf3" stroke-width="1"/><text x="1240.6" y="887.4" font-size="12" fill="#42424a" text-anchor="end" font-family="'DejaVu Sans',sans-serif" font-weight="normal" letter-spacing="0"  stroke="#42424a" stroke-width=".2">0.15</text><path d="M1242 919.1H1583" stroke="#ebedf3" stroke-width="1"/><text x="1240.6" y="923.5" font-size="12" fill="#42424a" text-anchor="end" font-family="'DejaVu Sans',sans-serif" font-weight="normal" letter-spacing="0"  stroke="#42424a" stroke-width=".2">0.1</text><rect x="1259" y="885.6" width="136.3" height="100" fill="#4a3548"/><rect x="1429.9" y="725.9" width="135.8" height="250" fill="#d161d2"/><rect x="1603.7" y="720.7" width="12" height="12" fill="#4a3548"/><text x="1629.8" y="731" font-size="12" fill="#42424a" text-anchor="start" font-family="'DejaVu Sans',sans-serif" font-weight="normal" letter-spacing="-0.075"  stroke="#42424a" stroke-width=".2">b611c27ddf314e43804ca61f23c63fd4</text><rect x="1603.7" y="739.8" width="12" height="12" fill="#d161d2"/><text x="1629.8" y="750.0999999999999" font-size="12" fill="#42424a" text-anchor="start" font-family="'DejaVu Sans',sans-serif" font-weight="normal" letter-spacing="-0.075"  stroke="#42424a" stroke-width=".2">b5c1c74178de461394af8a8bdf486bdb</text></svg></div>
</div></div>
</div></div>
</body></html>
